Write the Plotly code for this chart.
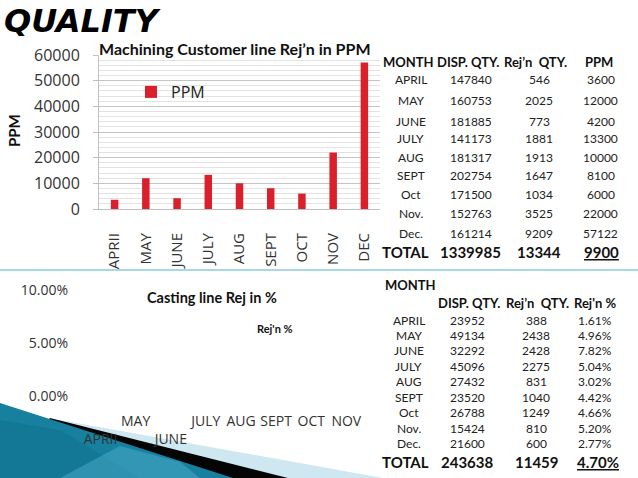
import plotly.graph_objects as go

# ---------------- data ----------------
chart_months = ["APRII", "MAY", "JUNE", "JULY", "AUG", "SEPT", "OCT", "NOV", "DEC"]

mach_months = ["APRIL", "MAY", "JUNE", "JULY", "AUG", "SEPT", "Oct", "Nov.", "Dec."]
mach_disp = [147840, 160753, 181885, 141173, 181317, 202754, 171500, 152763, 161214]
mach_rej = [546, 2025, 773, 1881, 1913, 1647, 1034, 3525, 9209]
mach_ppm = [3600, 12000, 4200, 13300, 10000, 8100, 6000, 22000, 57122]
mach_total = ["1339985", "13344", "9900"]

cast_months = ["APRIL", "MAY", "JUNE", "JULY", "AUG", "SEPT", "Oct", "Nov.", "Dec."]
cast_disp = [23952, 49134, 32292, 45096, 27432, 23520, 26788, 15424, 21600]
cast_rej = [388, 2438, 2428, 2275, 831, 1040, 1249, 810, 600]
cast_pct = [1.61, 4.96, 7.82, 5.04, 3.02, 4.42, 4.66, 5.20, 2.77]
cast_total = ["243638", "11459", "4.70%"]

mach_headers = ["MONTH", "DISP. QTY.", "Rej\u2019n  QTY.", "PPM"]
cast_headers = ["DISP. QTY.", "Rej\u2019n  QTY.", "Rej'n %"]

# ---------------- layout helpers ----------------
W, H = 638, 478


def px(x):
    return x / W


def py(y):
    return 1 - y / H


BODY = "Lato"
TICK = "Open Sans"

fig = go.Figure()

# top bar chart
fig.add_trace(go.Bar(
    x=chart_months, y=mach_ppm, name="PPM",
    marker=dict(color="#D9202B", line=dict(width=0)),
    width=0.24, xaxis="x", yaxis="y", legend="legend",
))

# bottom chart (series present but not visible, as in the reference)
fig.add_trace(go.Bar(
    x=chart_months, y=[v / 100 for v in cast_pct], name="Rej'n %",
    marker=dict(color="rgba(0,0,0,0)", line=dict(width=0)),
    xaxis="x2", yaxis="y2", legend="legend2", hoverinfo="skip",
))

annotations = []


def txt(x, y, s, size=12, bold=False, anchor="center", family=BODY, color="#222", **kw):
    font = dict(family=family, size=size, color=color)
    if bold:
        font["weight"] = "bold"
    font.update(kw.pop("fontextra", {}))
    annotations.append(dict(
        x=px(x), y=py(y), xref="paper", yref="paper", text=s, showarrow=False,
        xanchor=anchor, yanchor="middle", font=font, **kw))


# title
txt(2, 21, "QUALITY", size=32, anchor="left", family="DejaVu Sans", color="#000",
    fontextra=dict(weight="bold", style="italic"))
txt(97, 48, "Machining Customer line Rej\u2019n in PPM", size=16, bold=True, anchor="left", color="#111")
annotations.append(dict(x=px(14), y=py(131), xref="paper", yref="paper", text="PPM",
                        showarrow=False, textangle=-90, xanchor="center", yanchor="middle",
                        font=dict(family=BODY, size=15, color="#111", weight="bold")))

# top table
top_cols = [410.5, 470.5, 539, 600.5]
top_head_x = [408, 468, 535, 598.5]
for hx, h in zip(top_head_x, mach_headers):
    txt(hx, 62, h, size=13, bold=True, color="#111")
top_rows = [79, 101, 122, 138, 157, 175.5, 194, 213.5, 233]
for i, ry in enumerate(top_rows):
    txt(top_cols[0], ry, mach_months[i], size=12)
    txt(top_cols[1], ry, str(mach_disp[i]), size=12)
    txt(top_cols[2], ry, str(mach_rej[i]), size=12)
    txt(top_cols[3], ry, str(mach_ppm[i]), size=12)
txt(405, 252, "TOTAL", size=15, bold=True, color="#111")
txt(470, 252, mach_total[0], size=15, bold=True, color="#111")
txt(539, 252, mach_total[1], size=15, bold=True, color="#111")
txt(601, 252, mach_total[2], size=15, bold=True, color="#111", fontextra=dict(lineposition="under"))

# bottom chart title
txt(212, 297, "Casting line Rej in %", size=14.5, bold=True, color="#111")

# bottom table
txt(383, 285, "MONTH", size=13, bold=True, anchor="left", color="#111")
for hx, h in zip([468.5, 537, 594.5], cast_headers):
    txt(hx, 303, h, size=13, bold=True, color="#111")
bot_rows = [320, 335, 350.5, 366, 381.5, 397, 412.5, 428, 443.5]
for i, ry in enumerate(bot_rows):
    txt(408.5, ry, cast_months[i], size=12)
    txt(467, ry, str(cast_disp[i]), size=12)
    txt(536, ry, str(cast_rej[i]), size=12)
    txt(614, ry, f"{cast_pct[i]:.2f}%", size=12, anchor="right")
txt(405, 462, "TOTAL", size=15, bold=True, color="#111")
txt(467.5, 462, cast_total[0], size=15, bold=True, color="#111")
txt(537, 462, cast_total[1], size=15, bold=True, color="#111")
txt(597.5, 462, cast_total[2], size=15, bold=True, color="#111", fontextra=dict(lineposition="under"))


# decorative shapes (drawn beneath the axis labels)
def poly(pts):
    return "M " + " L ".join(f"{px(x)},{py(y)}" for x, y in pts) + " Z"


def deco(pts, color, opacity=1.0):
    return dict(type="path", xref="paper", yref="paper", layer="below",
                path=poly(pts), fillcolor=color, line=dict(width=0), opacity=opacity)


shapes = [
    dict(type="line", xref="paper", yref="paper", x0=0, x1=1, y0=py(270), y1=py(270),
         line=dict(color="#a6d8e6", width=2)),
    deco([(60, 420), (383, 478), (0, 478)], "#cfe7f0"),
    deco([(50, 418), (288, 478), (0, 478)], "#050505"),
    deco([(0, 403), (233, 478), (0, 478)], "#17809f"),
    deco([(0, 420), (60, 430), (140, 478), (0, 478)], "#0f6f8d", 0.5),
    deco([(60, 478), (120, 446), (180, 462), (200, 478)], "#52b3d0", 0.45),
]

bottom_ticktext = [("<br>" + m) if m in ("APRII", "JUNE") else m for m in chart_months[:-1]]

fig.update_layout(
    width=W, height=H,
    margin=dict(l=0, r=0, t=0, b=0, pad=0, autoexpand=False),
    paper_bgcolor="white", plot_bgcolor="rgba(0,0,0,0)",
    showlegend=True,
    legend=dict(x=px(131), y=py(75), xanchor="left", yanchor="top",
                bgcolor="rgba(0,0,0,0)", font=dict(family=TICK, size=16, color="#222")),
    legend2=dict(x=px(217), y=py(314), xanchor="left", yanchor="top",
                 bgcolor="rgba(0,0,0,0)", font=dict(family=BODY, size=11, color="#111", weight="bold")),
    xaxis=dict(domain=[px(99), px(380)], anchor="y", type="category", automargin=False,
               tickangle=-90, tickfont=dict(family=TICK, size=15, color="#333"),
               showline=True, linecolor="#c0c0c0", linewidth=1, ticks="",
               ticklabelstandoff=17, showgrid=False, fixedrange=True),
    yaxis=dict(domain=[py(209), py(55)], anchor="x", range=[0, 60000], dtick=10000, automargin=False,
               tickformat="d", tickfont=dict(family=TICK, size=16, color="#333"),
               showgrid=True, gridcolor="#c4c4c4", gridwidth=1,
               minor=dict(dtick=2000, showgrid=True, gridcolor="#e2e2e2", gridwidth=1),
               showline=True, linecolor="#c0c0c0", ticks="outside", ticklen=5, tickcolor="#c0c0c0",
               ticklabelstandoff=10, zeroline=False),
    xaxis2=dict(domain=[px(83), px(399)], anchor="y2", type="category", automargin=False,
                range=[-0.5, 8.5], tickvals=chart_months[:-1], ticktext=bottom_ticktext,
                tickangle=0, tickfont=dict(family=TICK, size=14, color="#333"),
                showline=False, showgrid=False, ticks="", ticklabelstandoff=15, zeroline=False),
    yaxis2=dict(domain=[py(396), py(290)], anchor="x2", range=[0, 0.1], dtick=0.05, automargin=False,
                tickformat=".2%", tickfont=dict(family=TICK, size=14, color="#333"),
                showgrid=False, showline=False, zeroline=False, ticks="", ticklabelstandoff=14),
    annotations=annotations,
    shapes=shapes,
)

fig.write_html("out.html")
